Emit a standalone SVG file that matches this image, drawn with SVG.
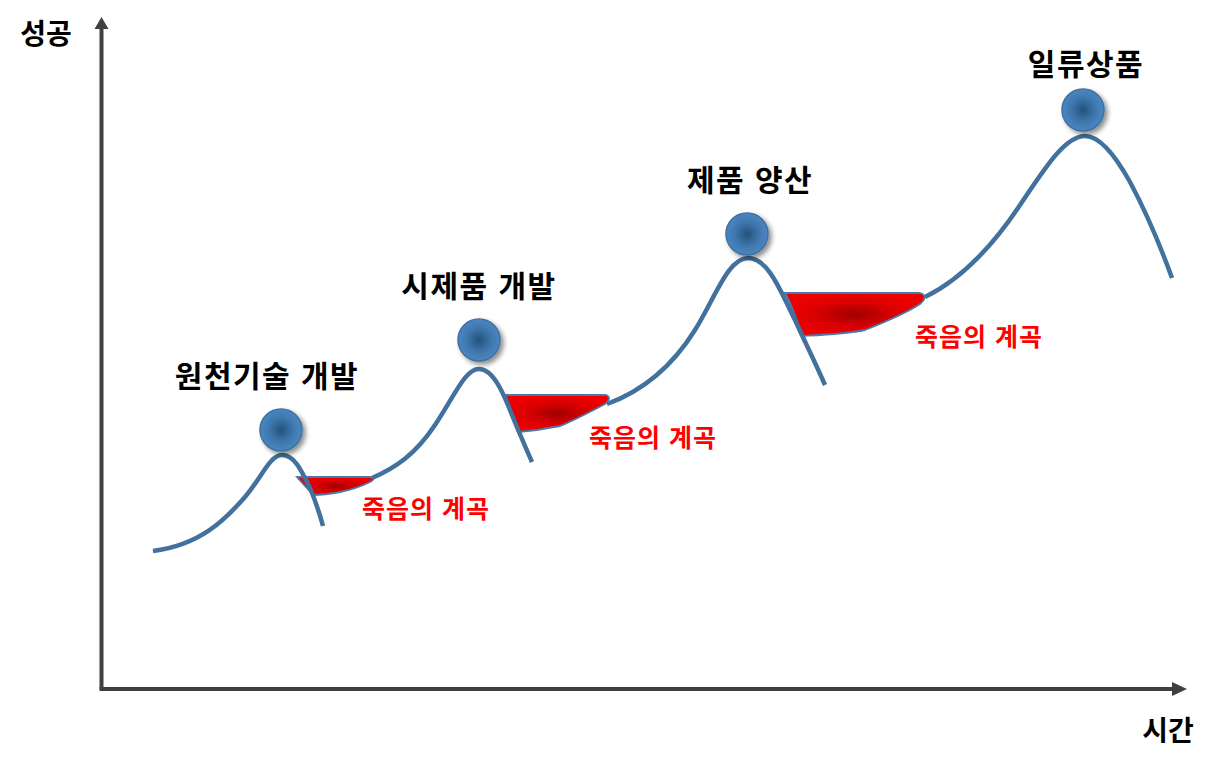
<svg xmlns="http://www.w3.org/2000/svg" width="1216" height="760" viewBox="0 0 1216 760">
<defs>
<style>
.lbl{font-family:"Liberation Sans","Noto Sans CJK KR",sans-serif;font-weight:bold;font-size:30px;letter-spacing:1.5px;fill:#000;text-anchor:middle}
.ax{font-family:"Liberation Sans","Noto Sans CJK KR",sans-serif;font-weight:bold;font-size:28px;fill:#000;text-anchor:middle}
.red{font-family:"Liberation Sans","Noto Sans CJK KR",sans-serif;font-weight:bold;font-size:25px;letter-spacing:1px;fill:#ff0000;text-anchor:middle}
.curve{fill:none;stroke:#41719C;stroke-width:4.5;stroke-linecap:butt}
.axis{fill:none;stroke:#404040;stroke-width:4}
.ball{fill:url(#ballG);stroke:#41719C;stroke-width:1.5;filter:url(#sh)}
.valley{fill:url(#redG);stroke:#4a78a8;stroke-width:1.8}
</style>
<radialGradient id="ballG" cx="0.5" cy="0.5" r="0.5">
<stop offset="0" stop-color="#24527c"/>
<stop offset="0.6" stop-color="#3f78ae"/>
<stop offset="1" stop-color="#4a86c3"/>
</radialGradient>
<radialGradient id="redG" cx="0.5" cy="0.5" r="0.5">
<stop offset="0" stop-color="#a00000"/>
<stop offset="0.55" stop-color="#d80000"/>
<stop offset="1" stop-color="#ee0000"/>
</radialGradient>
<filter id="sh" x="-40%" y="-40%" width="180%" height="180%">
<feGaussianBlur in="SourceAlpha" stdDeviation="2.5"/>
<feOffset dx="3" dy="3" result="b"/>
<feComponentTransfer><feFuncA type="linear" slope="0.45"/></feComponentTransfer>
<feMerge><feMergeNode/><feMergeNode in="SourceGraphic"/></feMerge>
</filter>
</defs>
<rect width="1216" height="760" fill="#fff"/>
<g id="axes">
<path class="axis" d="M101.5,689 V28"/>
<polygon points="94.5,29 108.5,29 101.5,17" fill="#404040"/>
<path class="axis" d="M99.5,689 H1173"/>
<polygon points="1172,682 1172,696 1187,689" fill="#404040"/>
<text class="ax" x="46" y="44">성공</text>
<text class="ax" x="1168" y="741">시간</text>
</g>
<g id="valleys">
<path class="valley" d="M297,477 L370,477 C375,478 374,480 370,482 C360,487 350,490 340,492 C330,494 322,495 313,495 C308,489 302,483 297,477 Z"/>
<path class="valley" d="M505,395 L606,395 C611,397 609,401 605,404 C590,412 575,420 560,426 C545,429 530,431 518,432 C514,420 510,405 505,395 Z"/>
<path class="valley" d="M785,293 L920,293 C927,295 925,300 920,304 C905,314 885,322 865,330 C845,334 820,335 802,336 C797,320 792,305 785,293 Z"/>
</g>
<g id="connectors">
<path class="curve" d="M153,551 C200,545 225,520 245,497 C262,477 270,455 282,455 C295,455 302,472 310,488 C315,500 320,515 323,526"/>
<path class="curve" d="M372,478 C395,468 415,455 435,425 C455,395 465,369 479,369 C493,369 503,392 512,415 C520,435 526,448 532,462"/>
<path class="curve" d="M607,404 C640,392 670,370 695,330 C715,298 728,258 748,258 C768,258 780,290 795,320 C805,342 815,362 825,385"/>
<path class="curve" d="M925,297 C960,280 990,250 1020,205 C1045,168 1065,136 1085,136 C1100,136 1115,155 1130,182 C1145,210 1160,245 1172,278"/>
</g>
<g id="node1">
<circle class="ball" cx="281" cy="430" r="21"/>
<text class="lbl" x="267" y="387">원천기술 개발</text>
</g>
<g id="node2">
<circle class="ball" cx="479" cy="340" r="21"/>
<text class="lbl" x="479" y="297">시제품 개발</text>
</g>
<g id="node3">
<circle class="ball" cx="747" cy="234" r="21"/>
<text class="lbl" x="750" y="191">제품 양산</text>
</g>
<g id="node4">
<circle class="ball" cx="1083" cy="110" r="21"/>
<text class="lbl" x="1086" y="75">일류상품</text>
</g>
<g id="valley-labels">
<text class="red" x="426" y="518">죽음의 계곡</text>
<text class="red" x="653" y="447">죽음의 계곡</text>
<text class="red" x="979" y="346">죽음의 계곡</text>
</g>
</svg>
